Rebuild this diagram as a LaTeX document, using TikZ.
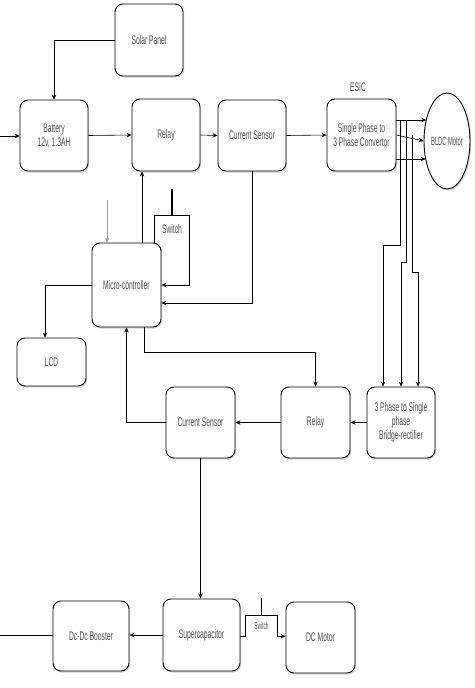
\documentclass[tikz,border=0pt]{standalone}
\usepackage{fontspec}
\setmainfont{Liberation Sans}
\newfontfamily\nar[FakeStretch=0.54]{Liberation Sans}
\newfontfamily\narr[FakeStretch=0.48]{Liberation Sans}
\usetikzlibrary{arrows.meta,shadows,shapes.geometric}
\tikzset{
  blk/.style={draw=black, line width=0.9pt, rounded corners=8pt, fill=white,
    drop shadow={shadow xshift=1.2pt, shadow yshift=-1.5pt, opacity=0.35},
    align=center, font=\nar\fontsize{12.5}{14}\selectfont, text=black!70,
    inner sep=1pt},
  lbl/.style={font=\nar\fontsize{12.5}{14}\selectfont, text=black!70, inner sep=0pt},
  arr/.style={-{Stealth[length=5pt,width=4.5pt]}, line width=0.6pt},
  ln/.style={line width=0.6pt},
}
\begin{document}
\begin{tikzpicture}[x=1pt,y=-1pt]
\useasboundingbox (0,0) rectangle (474,688);
% top row
\node[blk, minimum width=68, minimum height=72] (solar) at (149,40) {Solar Panel};
\node[blk, minimum width=68, minimum height=71] (battery) at (54,135.5) {Battery\\12v, 1.3AH};
\node[blk, minimum width=68, minimum height=72] (relay1) at (166,135) {Relay};
\node[blk, minimum width=68, minimum height=71] (cs1) at (252,135.5) {Current Sensor};
\node[blk, minimum width=69, minimum height=72] (conv) at (361.5,135) {Single Phase to\\3 Phase Convertor};
\node[lbl] (esic) at (358,87) {ESIC};
\node[draw=black, line width=0.9pt, ellipse, fill=white, minimum width=46, minimum height=96,
  inner sep=0pt, drop shadow={shadow xshift=1.2pt, shadow yshift=-1.5pt, opacity=0.35},
  font=\narr\fontsize{12}{14}\selectfont, text=black!70] (bldc) at (447,141) {BLDC Motor};
% middle
\node[blk, minimum width=69, minimum height=84] (micro) at (126.5,285) {Micro-controller};
\node[blk, minimum width=69, minimum height=48] (lcd) at (51.5,362) {LCD};
\node[blk, minimum width=68, minimum height=71] (rect) at (401,422.5) {3 Phase to Single\\phase\\Bridge-rectifier};
\node[blk, minimum width=69, minimum height=71] (relay2) at (315.5,422.5) {Relay};
\node[blk, minimum width=69, minimum height=71] (cs2) at (200.5,422.5) {Current Sensor};
% bottom
\node[blk, minimum width=77, minimum height=72] (supercap) at (201.5,635) {Supercapacitor};
\node[blk, minimum width=76, minimum height=70] (booster) at (91,636) {Dc-Dc Booster};
\node[blk, minimum width=69, minimum height=71] (dcmotor) at (320.5,637.5) {DC Motor};
% switches
\node[lbl, minimum width=34, minimum height=27] (sw1) at (172,229.5) {Switch};
\node[lbl, minimum width=31, minimum height=20, font=\narr\fontsize{10}{11}\selectfont] (sw2) at (261.5,626) {Switch};

% top connections
\coordinate (inL) at (0,136);
\draw[arr] (inL) -- (battery.west |- inL);
\draw[arr] (solar.west) -| (battery.north);
\draw[arr] (battery.east) -- (relay1.west);
\draw[arr] (relay1.east) -- (cs1.west);
\draw[arr] (cs1.east) -- (conv.west);
% three phase to BLDC
\draw[arr] (conv.east |- 0,120) -- (426.3,120);
\draw[arr] (conv.east) -- (bldc.west);
\draw[arr] (conv.east |- 0,159) -- (425.7,159);
% three phase down to rectifier
\draw[arr] (400,120) -- (400,245) -- (383,245) -- (rect.north -| 383,0);
\draw[arr] (406,120) -- (406,262) -- (401,262) -- (rect.north);
\draw[arr] (412,135) -- (412,272) -- (418,272) -- (rect.north -| 418,0);

% switch 1
\draw[line width=1.1pt] (sw1.south west) -- (sw1.north west) -- (sw1.north east) -- (sw1.south east);
\draw[arr] (sw1.south east) -- (sw1.east |- micro.east) -- (micro.east);
\coordinate (sw1stub) at (172,189);
\draw[line width=1.1pt] (sw1stub) -- (sw1.north);
% micro connections
\draw[arr] (micro.north -| 142,0) -- (relay1.south -| 142,0);
\draw[arr] (cs1.south) |- (micro.east |- 0,303);
\coordinate (faint) at (107,200);
\draw[arr, black!40, line width=0.4pt] (faint) -- (micro.north -| faint);
\draw[arr] (micro.west) -| ([xshift=-6.5pt]lcd.north);
\draw[arr] (micro.south -| 144,0) -- (144,352) -| (relay2.north);
% lower chain
\draw[arr] (rect.west) -- (relay2.east);
\draw[arr] (relay2.west) -- (cs2.east);
\draw[arr] (cs2.west) -| (micro.south);
\draw[arr] (cs2.south) -- (cs2.south |- supercap.north);
% bottom
\draw[arr] (supercap.west) -- (booster.east |- supercap.west);
\coordinate (outL) at (0,635);
\draw[ln] (booster.west |- outL) -- (outL);
\draw[line width=0.9pt] (supercap.east |- sw2.south) -- (sw2.south west) -- (sw2.north west) -- (sw2.north east) -- (sw2.south east);
\draw[arr] (sw2.south east) -- (dcmotor.west |- sw2.south);
\coordinate (sw2stub) at (261.5,598);
\draw[ln] (sw2stub) -- (sw2.north);
\end{tikzpicture}
\end{document}
